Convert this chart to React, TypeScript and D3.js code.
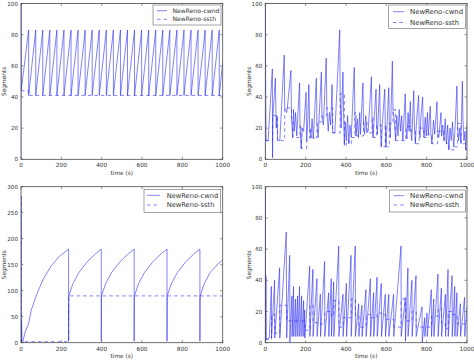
import * as d3 from "d3";
import React from "react";

type Pt = [number, number];

// x axis shared by all four panels
const xTicks = [0, 200, 400, 600, 800, 1000];
const yTicks100 = [0, 20, 40, 60, 80, 100];
const yTicks300 = [0, 50, 100, 150, 200, 250, 300];
const seriesNames = ["NewReno-cwnd", "NewReno-ssth"];

// panel 1: regular sawtooth, peak times (s)
const peakTimes1 = [
  38, 73, 108, 143, 178, 213, 248, 283, 318, 353, 388, 423, 458, 493, 528,
  563, 598, 633, 668, 703, 738, 773, 808, 843, 878, 913, 948, 983,
];
const peakValue1 = 83;
const lowValue1 = 41;
const startCwnd1: Pt[] = [[0, 0], [0, 100], [1, 44]];
const endCwnd1: Pt = [1000, 62];
const ssth1: Pt[] = [[0, 44], [38, 41], [1000, 41]];

// panel 2
const cwnd2: Pt[] = [
  [0, 0], [0, 100], [2, 45], [4, 12], [14, 12], [35, 58], [36, 1], [38, 28], [50, 52], [54, 20],
  [58, 28], [61, 12], [72, 12], [94, 67], [96, 33], [106, 30], [110, 34], [127, 57], [130, 26], [136, 14],
  [140, 32], [144, 18], [150, 30], [156, 15], [170, 49], [172, 22], [178, 7], [184, 20], [190, 18], [202, 43],
  [205, 12], [210, 22], [216, 48], [220, 20], [226, 14], [232, 26], [238, 13], [253, 52], [256, 24], [262, 14],
  [278, 56], [281, 28], [288, 22], [302, 65], [305, 33], [312, 18], [318, 30], [324, 22], [331, 48], [334, 17],
  [345, 17], [369, 83], [371, 42], [376, 20], [385, 56], [388, 30], [392, 9], [396, 24], [402, 12], [408, 28],
  [414, 10], [420, 22], [426, 14], [441, 59], [444, 30], [450, 15], [456, 26], [462, 14], [468, 30], [472, 16],
  [484, 49], [487, 24], [492, 16], [498, 28], [504, 17], [510, 18], [526, 53], [529, 27], [534, 14], [549, 45],
  [552, 22], [556, 16], [567, 48], [570, 24], [575, 8], [580, 22], [592, 45], [595, 22], [598, 8], [603, 20],
  [612, 46], [615, 23], [620, 14], [630, 63], [633, 32], [640, 24], [646, 12], [652, 28], [658, 15], [664, 32],
  [670, 18], [676, 28], [682, 12], [694, 42], [697, 21], [702, 13], [708, 30], [713, 18], [719, 37], [722, 18],
  [726, 12], [736, 44], [739, 22], [744, 10], [750, 25], [760, 41], [763, 20], [767, 14], [772, 28], [780, 40],
  [783, 20], [787, 14], [793, 27], [798, 15], [804, 30], [808, 16], [818, 34], [821, 17], [826, 10], [834, 25],
  [840, 16], [851, 37], [854, 18], [860, 14], [871, 30], [874, 15], [880, 22], [886, 12], [892, 26], [898, 10],
  [904, 22], [910, 6], [916, 20], [922, 12], [928, 24], [934, 8], [940, 18], [950, 47], [953, 23], [958, 12],
  [964, 20], [970, 10], [977, 50], [980, 25], [985, 12], [990, 18], [994, 6], [1000, 23],
];
const ssth2: Pt[] = [
  [0, 12], [36, 28], [61, 12], [96, 33], [130, 26], [136, 14], [172, 22], [178, 7], [205, 12], [220, 20],
  [226, 14], [256, 24], [281, 28], [305, 33], [334, 17], [371, 42], [392, 9], [402, 12], [414, 10], [426, 14],
  [444, 30], [450, 15], [487, 24], [504, 17], [529, 27], [534, 14], [552, 22], [575, 8], [595, 22], [598, 8],
  [615, 23], [633, 32], [646, 12], [682, 12], [697, 21], [722, 18], [744, 10], [763, 20], [787, 14], [808, 16],
  [826, 10], [854, 18], [886, 12], [898, 10], [910, 6], [934, 8], [953, 23], [970, 10], [994, 6], [1000, 6],
];

// panel 3
const cwnd3: Pt[] = [
  [0, 0], [0, 282], [1, 2], [3, 41], [5, 1], [8, 0], [20, 20], [38, 37], [51, 63], [80, 95], [110, 122],
  [150, 148], [190, 166], [236, 180], [236, 3], [237, 90], [257, 113], [287, 135], [327, 155], [367, 170],
  [398, 180], [398, 3], [399, 90], [419, 113], [449, 135], [489, 155], [529, 170], [561, 180], [561, 3],
  [562, 90], [582, 113], [612, 135], [652, 155], [692, 170], [724, 180], [724, 3], [725, 90], [745, 113],
  [775, 135], [815, 155], [855, 170], [887, 180], [887, 3], [888, 90], [908, 113], [938, 135], [978, 152],
  [1000, 159],
];
const ssth3: Pt[] = [[0, 282], [1, 2], [236, 90], [1000, 90]];

// panel 4
const cwnd4: Pt[] = [
  [0, 0], [0, 100], [2, 2], [3, 43], [4, 2], [20, 3], [30, 36], [31, 3], [46, 40], [47, 3], [71, 48],
  [72, 3], [104, 71], [106, 3], [121, 56], [122, 0], [126, 14], [132, 30], [133, 4], [140, 36], [141, 4],
  [150, 28], [151, 4], [160, 30], [161, 4], [170, 36], [171, 4], [180, 30], [181, 4], [190, 27], [191, 4],
  [195, 21], [196, 3], [220, 49], [221, 4], [236, 47], [237, 4], [256, 41], [257, 4], [273, 31], [274, 4],
  [294, 52], [295, 4], [314, 32], [315, 4], [327, 41], [328, 4], [339, 39], [340, 4], [364, 62], [365, 4],
  [385, 31], [386, 4], [402, 38], [403, 4], [425, 56], [426, 4], [446, 62], [447, 4], [463, 25], [464, 4],
  [479, 24], [480, 4], [499, 34], [500, 4], [521, 41], [522, 4], [537, 32], [538, 4], [554, 42], [555, 4],
  [575, 38], [576, 4], [595, 31], [596, 4], [612, 31], [613, 4], [636, 31], [637, 4], [673, 62], [674, 4],
  [694, 29], [695, 1], [707, 48], [708, 4], [727, 40], [728, 4], [747, 43], [748, 4], [777, 23], [778, 0],
  [790, 16], [791, 4], [802, 19], [803, 4], [823, 34], [824, 4], [835, 28], [836, 4], [856, 44], [857, 4],
  [873, 35], [874, 4], [893, 31], [894, 4], [906, 47], [907, 4], [926, 43], [927, 4], [939, 36], [940, 4],
  [950, 32], [951, 4], [967, 25], [968, 4], [988, 29], [989, 4], [1000, 23],
];
const ssth4: Pt[] = [
  [0, 2], [31, 18], [47, 6], [72, 24], [106, 14], [196, 8], [221, 24], [237, 13], [257, 12], [295, 20],
  [328, 17], [340, 27], [365, 10], [386, 16], [426, 28], [447, 17], [464, 10], [500, 18], [522, 16],
  [555, 19], [576, 18], [596, 15], [637, 10], [674, 28], [695, 14], [728, 20], [748, 10], [778, 10],
  [803, 10], [824, 17], [857, 22], [874, 12], [894, 9], [907, 20], [927, 18], [951, 12], [968, 12],
  [989, 14], [1000, 14],
];

function buildCwnd1(): Pt[] {
  const pts: Pt[] = [...startCwnd1];
  peakTimes1.forEach((t) => {
    pts.push([t, peakValue1]);
    pts.push([t, lowValue1]);
  });
  pts.push(endCwnd1);
  return pts;
}

interface Legend {
  x: number; y: number; w: number; h: number;
  sx0: number; sx1: number; tx: number; r1: number; r2: number; fs: number;
}
interface PanelCfg {
  id: string;
  x0: number; x1: number; y0: number; y1: number;
  yMax: number; yTicks: number[];
  cwnd: Pt[]; ssth: Pt[];
  labelX: number;
  legend: Legend;
}

const BLUE = "#2a2af5";
const OP = 0.62;
const AX = "#4a4a4a";
const TXT = "#333";
const FONT = "DejaVu Sans, sans-serif";

const panels: PanelCfg[] = [
  {
    id: "p1", x0: 21, x1: 222.7, y0: 3.5, y1: 159.3, yMax: 100, yTicks: yTicks100,
    cwnd: buildCwnd1(), ssth: ssth1, labelX: 6,
    legend: { x: 153, y: 5, w: 68, h: 20, sx0: 157, sx1: 167, tx: 172.5, r1: 10.7, r2: 19.3, fs: 6.1 },
  },
  {
    id: "p2", x0: 265.3, x1: 467, y0: 3.5, y1: 159.3, yMax: 100, yTicks: yTicks100,
    cwnd: cwnd2, ssth: ssth2, labelX: 251,
    legend: { x: 388.7, y: 5, w: 76.6, h: 23.3, sx0: 393, sx1: 404, tx: 410, r1: 11.7, r2: 22.5, fs: 6.9 },
  },
  {
    id: "p3", x0: 21, x1: 222.7, y0: 186.7, y1: 342.7, yMax: 300, yTicks: yTicks300,
    cwnd: cwnd3, ssth: ssth3, labelX: 6,
    legend: { x: 144, y: 189.3, w: 76.7, h: 23, sx0: 147, sx1: 160, tx: 166.7, r1: 195.3, r2: 205, fs: 6.7 },
  },
  {
    id: "p4", x0: 265.3, x1: 467, y0: 186.7, y1: 342.7, yMax: 100, yTicks: yTicks100,
    cwnd: cwnd4, ssth: ssth4, labelX: 251,
    legend: { x: 389.3, y: 190, w: 76.4, h: 22, sx0: 393.7, sx1: 403.7, tx: 410, r1: 195.7, r2: 205, fs: 6.9 },
  },
];

const Panel = ({ cfg }: { cfg: PanelCfg }) => {
  const x = d3.scaleLinear().domain([0, 1000]).range([cfg.x0, cfg.x1]);
  const y = d3.scaleLinear().domain([0, cfg.yMax]).range([cfg.y1, cfg.y0]);
  const line = d3.line<Pt>().x((d) => x(d[0])).y((d) => y(d[1]));
  const step = d3
    .line<Pt>()
    .x((d) => x(d[0]))
    .y((d) => y(d[1]))
    .curve(d3.curveStepAfter);
  const lg = cfg.legend;
  const tl = 2.5;
  const midY = (cfg.y0 + cfg.y1) / 2;
  return (
    <g>
      <defs>
        <clipPath id={`clip-${cfg.id}`}>
          <rect x={cfg.x0} y={cfg.y0} width={cfg.x1 - cfg.x0} height={cfg.y1 - cfg.y0} />
        </clipPath>
      </defs>
      <rect x={cfg.x0} y={cfg.y0} width={cfg.x1 - cfg.x0} height={cfg.y1 - cfg.y0} fill="#fff" />
      <g clipPath={`url(#clip-${cfg.id})`}>
        <path d={line(cfg.cwnd) || ""} fill="none" stroke={BLUE} strokeOpacity={OP} strokeWidth={0.95} />
        <path
          d={step(cfg.ssth) || ""}
          fill="none"
          stroke={BLUE}
          strokeOpacity={OP}
          strokeWidth={0.95}
          strokeDasharray="3.5,3"
        />
      </g>
      {/* ticks, inward on all four sides */}
      {xTicks.map((t) => (
        <g key={`xt${t}`}>
          <line x1={x(t)} x2={x(t)} y1={cfg.y1} y2={cfg.y1 - tl} stroke={AX} strokeWidth={0.6} />
          <line x1={x(t)} x2={x(t)} y1={cfg.y0} y2={cfg.y0 + tl} stroke={AX} strokeWidth={0.6} />
          <text x={x(t)} y={cfg.y1 + 7.8} fontSize={5.8} textAnchor="middle" fill={TXT} fontFamily={FONT}>
            {t}
          </text>
        </g>
      ))}
      {cfg.yTicks.map((t) => (
        <g key={`yt${t}`}>
          <line x1={cfg.x0} x2={cfg.x0 + tl} y1={y(t)} y2={y(t)} stroke={AX} strokeWidth={0.6} />
          <line x1={cfg.x1} x2={cfg.x1 - tl} y1={y(t)} y2={y(t)} stroke={AX} strokeWidth={0.6} />
          <text x={cfg.x0 - 3} y={y(t) + 2} fontSize={5.6} textAnchor="end" fill={TXT} fontFamily={FONT}>
            {t}
          </text>
        </g>
      ))}
      <rect
        x={cfg.x0}
        y={cfg.y0}
        width={cfg.x1 - cfg.x0}
        height={cfg.y1 - cfg.y0}
        fill="none"
        stroke={AX}
        strokeWidth={0.8}
      />
      <text
        x={(cfg.x0 + cfg.x1) / 2}
        y={cfg.y1 + 15.5}
        fontSize={5.8}
        textAnchor="middle"
        fill={TXT}
        fontFamily={FONT}
      >
        time (s)
      </text>
      <text
        transform={`translate(${cfg.labelX},${midY}) rotate(-90)`}
        fontSize={5.8}
        textAnchor="middle"
        fill={TXT}
        fontFamily={FONT}
      >
        Segments
      </text>
      {/* legend */}
      <rect x={lg.x} y={lg.y} width={lg.w} height={lg.h} fill="#fff" stroke="#666" strokeWidth={0.6} />
      <line x1={lg.sx0} x2={lg.sx1} y1={lg.r1} y2={lg.r1} stroke={BLUE} strokeOpacity={OP} strokeWidth={0.95} />
      <line
        x1={lg.sx0}
        x2={lg.sx1}
        y1={lg.r2}
        y2={lg.r2}
        stroke={BLUE}
        strokeOpacity={OP}
        strokeWidth={0.95}
        strokeDasharray="3.5,3"
      />
      {seriesNames.map((n, i) => (
        <text
          key={n}
          x={lg.tx}
          y={(i === 0 ? lg.r1 : lg.r2) + lg.fs * 0.36}
          fontSize={lg.fs}
          fill={TXT}
          fontFamily={FONT}
        >
          {n}
        </text>
      ))}
    </g>
  );
};

const App = () => {
  return (
    <svg
      width={474}
      height={360}
      style={{ position: "absolute", left: 0, top: 0, background: "#fff" }}
    >
      {panels.map((p) => (
        <Panel key={p.id} cfg={p} />
      ))}
    </svg>
  );
};

export default App;
